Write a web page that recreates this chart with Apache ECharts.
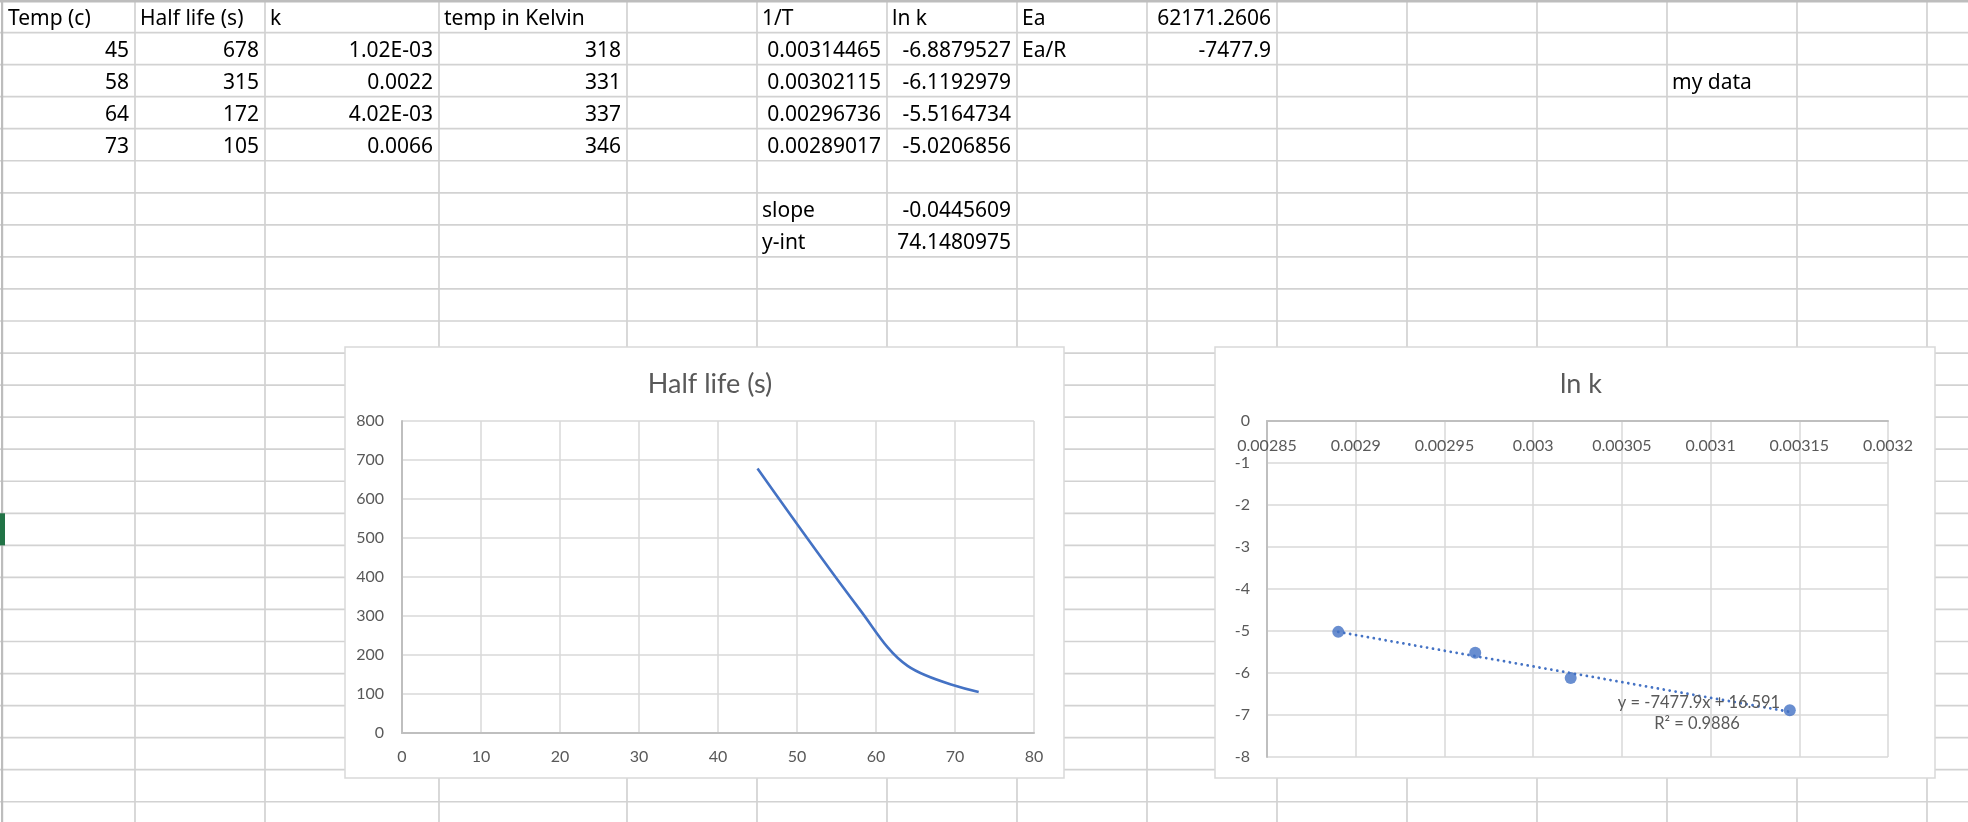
<!DOCTYPE html>
<html>
<head>
<meta charset="utf-8">
<title>Half life / ln k</title>
<script src="https://cdn.jsdelivr.net/npm/echarts@6/dist/echarts.min.js"></script>
<style>
  html, body { margin: 0; padding: 0; background: #fff; }
  #main { width: 1968px; height: 822px; }
</style>
</head>
<body>
<div id="main"></div>
<script>
// sheet values
var tempC = [45, 58, 64, 73];
var halfLife = [678, 315, 172, 105];
var kValue = ['1.02E-03', '0.0022', '4.02E-03', '0.0066'];
var kelvin = [318, 331, 337, 346];
var invT = [0.00314465, 0.00302115, 0.00296736, 0.00289017];
var lnK = [-6.8879527, -6.1192979, -5.5164734, -5.0206856];

var ea = 62171.2606;
var eaOverR = -7477.9;
var slope = -0.0445609;
var yInt = 74.1480975;

// excel trendline shown on the ln k chart
var trendSlope = -7477.9;
var trendIntercept = 16.591;
var rSquared = 0.9886;

var font = 'Lato, "Noto Sans", sans-serif';
var cellFont = '"Noto Sans", Lato, sans-serif';
var gray = '#595959';

// spreadsheet layout
var colX = [3, 135, 265, 439, 627, 757, 887, 1017, 1147, 1277, 1407, 1537, 1667, 1797, 1927];
var rowH = 32.05;
var rowCount = 25;

function rowBottom(r) { return 0.5 + rowH * (r + 1); }

var sheet = [];
for (var i = 1; i <= rowCount; i++) {
  var y = 0.5 + rowH * i;
  sheet.push({ type: 'line', z: -3, shape: { x1: 0, y1: y, x2: 1968, y2: y },
    style: { stroke: '#D2D2D2', lineWidth: 1.7 } });
}
for (var j = 1; j < colX.length; j++) {
  sheet.push({ type: 'line', z: -3, shape: { x1: colX[j], y1: 0, x2: colX[j], y2: 822 },
    style: { stroke: '#D2D2D2', lineWidth: 1.7 } });
}
sheet.push({ type: 'rect', z: -3, shape: { x: 0, y: 0, width: 1968, height: 2.5 }, style: { fill: '#BDBDBD' } });
sheet.push({ type: 'rect', z: -3, shape: { x: 1, y: 0, width: 2.2, height: 822 }, style: { fill: '#BDBDBD' } });
sheet.push({ type: 'rect', z: -3, shape: { x: 0, y: rowBottom(15), width: 5, height: rowH }, style: { fill: '#217346' } });

function cell(col, row, text, align) {
  var right = align === 'right';
  sheet.push({
    type: 'text', z: -3,
    x: right ? colX[col + 1] - 6 : colX[col] + 5,
    y: rowBottom(row) - 14,
    style: { text: String(text), fill: '#000', font: '21px ' + cellFont,
      align: right ? 'right' : 'left', verticalAlign: 'middle' }
  });
}

cell(0, 0, 'Temp (c)');
cell(1, 0, 'Half life (s)');
cell(2, 0, 'k');
cell(3, 0, 'temp in Kelvin');
cell(5, 0, '1/T');
cell(6, 0, 'ln k');
cell(7, 0, 'Ea');
cell(8, 0, ea, 'right');
for (var r = 0; r < tempC.length; r++) {
  cell(0, r + 1, tempC[r], 'right');
  cell(1, r + 1, halfLife[r], 'right');
  cell(2, r + 1, kValue[r], 'right');
  cell(3, r + 1, kelvin[r], 'right');
  cell(5, r + 1, invT[r], 'right');
  cell(6, r + 1, lnK[r], 'right');
}
cell(7, 1, 'Ea/R');
cell(8, 1, eaOverR, 'right');
cell(12, 2, 'my data');
cell(5, 6, 'slope');
cell(6, 6, slope, 'right');
cell(5, 7, 'y-int');
cell(6, 7, yInt, 'right');

// chart frames
sheet.push({ type: 'rect', z: -2, shape: { x: 345, y: 347, width: 719, height: 431 },
  style: { fill: '#fff', stroke: '#D9D9D9', lineWidth: 1.5 } });
sheet.push({ type: 'rect', z: -2, shape: { x: 1215, y: 347, width: 720, height: 431 },
  style: { fill: '#fff', stroke: '#D9D9D9', lineWidth: 1.5 } });

// trendline label
sheet.push({ type: 'text', z: 5, x: 1699, y: 703,
  style: { text: 'y = ' + trendSlope + 'x + ' + trendIntercept, fill: gray, font: '16.5px ' + font,
    align: 'center', verticalAlign: 'middle' } });
sheet.push({ type: 'text', z: 5, x: 1697, y: 724,
  style: { text: 'R\u00B2 = ' + rSquared, fill: gray, font: '16.5px ' + font,
    align: 'center', verticalAlign: 'middle' } });

var halfLifeData = tempC.map(function (t, i) { return [t, halfLife[i]]; });
var lnKData = invT.map(function (x, i) { return [x, lnK[i]]; });
var xLo = Math.min.apply(null, invT);
var xHi = Math.max.apply(null, invT);
var trendData = [[xLo, trendSlope * xLo + trendIntercept], [xHi, trendSlope * xHi + trendIntercept]];

var axisText = { color: gray, fontSize: 16, fontFamily: font };
var splitLine = { show: true, lineStyle: { color: '#D9D9D9', width: 1.5 } };
var axisLine = { show: true, lineStyle: { color: '#BFBFBF', width: 2 } };

var option = {
  backgroundColor: '#fff',
  animation: false,
  title: [
    { text: 'Half life (s)', left: 705, top: 366, textAlign: 'center',
      textStyle: { color: gray, fontSize: 27, fontWeight: 'normal', fontFamily: font } },
    { text: 'ln k', left: 1576, top: 366, textAlign: 'center',
      textStyle: { color: gray, fontSize: 27, fontWeight: 'normal', fontFamily: font } }
  ],
  grid: [
    { left: 402, top: 421, width: 632, height: 312 },
    { left: 1267, top: 421, width: 621, height: 336 }
  ],
  xAxis: [
    { type: 'value', gridIndex: 0, min: 0, max: 80, interval: 10,
      axisLine: axisLine, axisTick: { show: false }, splitLine: splitLine,
      axisLabel: Object.assign({ margin: 16 }, axisText) },
    // axis crosses at y = 0, which is the top of this plot; labels sit just under it
    { type: 'value', gridIndex: 1, position: 'top', min: 0.00285, max: 0.0032, interval: 0.00005,
      axisLine: { show: true, onZero: false, lineStyle: { color: '#BFBFBF', width: 2 } },
      axisTick: { show: false }, splitLine: splitLine,
      axisLabel: Object.assign({ inside: true, margin: 17,
        formatter: function (v) { return String(+v.toFixed(6)); } }, axisText) }
  ],
  yAxis: [
    { type: 'value', gridIndex: 0, min: 0, max: 800, interval: 100,
      axisLine: axisLine, axisTick: { show: false }, splitLine: splitLine,
      axisLabel: Object.assign({ margin: 18 }, axisText) },
    { type: 'value', gridIndex: 1, min: -8, max: 0, interval: 1,
      axisLine: axisLine, axisTick: { show: false }, splitLine: splitLine,
      axisLabel: Object.assign({ margin: 17 }, axisText) }
  ],
  graphic: sheet,
  series: [
    { name: 'Half life (s)', type: 'line', xAxisIndex: 0, yAxisIndex: 0,
      data: halfLifeData, smooth: 0.35, showSymbol: false,
      lineStyle: { color: '#4472C4', width: 2.6 } },
    { name: 'ln k trend', type: 'line', xAxisIndex: 1, yAxisIndex: 1,
      data: trendData, showSymbol: false,
      lineStyle: { color: '#4472C4', width: 2.8, type: [0.01, 6], cap: 'round' } },
    { name: 'ln k', type: 'scatter', xAxisIndex: 1, yAxisIndex: 1,
      data: lnKData, symbolSize: 12, itemStyle: { color: '#4472C4' } }
  ]
};

var chart = echarts.init(document.getElementById('main'));
chart.setOption(option);
</script>
</body>
</html>
